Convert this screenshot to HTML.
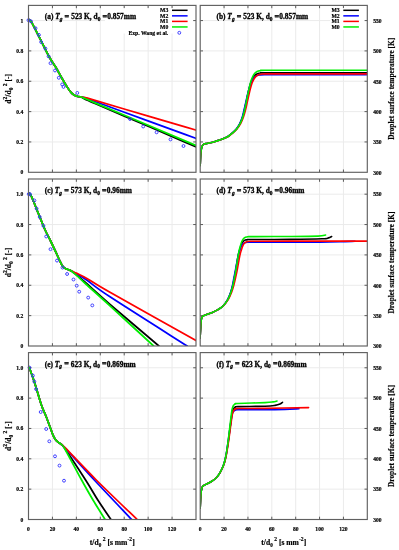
<!DOCTYPE html>
<html><head><meta charset="utf-8"><style>
html,body{margin:0;padding:0;background:#fff;width:399px;height:550px;overflow:hidden}
svg{display:block}
text{font-family:'Liberation Serif', 'Times New Roman', serif;font-weight:bold;fill:#000;stroke:#000;stroke-width:0.18px}
.tk{font-size:5.6px}
.ti{font-size:7.38px;stroke-width:0.3px}
.lg{font-size:5.7px}
.at{font-size:7.6px}
.at2{font-size:7.35px}
</style></head><body>
<svg width="399" height="550" viewBox="0 0 399 550">
<rect width="399" height="550" fill="#fff"/>
<line x1="52.43" y1="5.40" x2="52.43" y2="172.30" stroke="#ebebeb" stroke-width="1"/>
<line x1="76.36" y1="5.40" x2="76.36" y2="172.30" stroke="#ebebeb" stroke-width="1"/>
<line x1="100.29" y1="5.40" x2="100.29" y2="172.30" stroke="#ebebeb" stroke-width="1"/>
<line x1="124.21" y1="5.40" x2="124.21" y2="172.30" stroke="#ebebeb" stroke-width="1"/>
<line x1="148.14" y1="5.40" x2="148.14" y2="172.30" stroke="#ebebeb" stroke-width="1"/>
<line x1="172.07" y1="5.40" x2="172.07" y2="172.30" stroke="#ebebeb" stroke-width="1"/>
<line x1="28.50" y1="141.95" x2="196.00" y2="141.95" stroke="#ebebeb" stroke-width="1"/>
<line x1="28.50" y1="111.61" x2="196.00" y2="111.61" stroke="#ebebeb" stroke-width="1"/>
<line x1="28.50" y1="81.26" x2="196.00" y2="81.26" stroke="#ebebeb" stroke-width="1"/>
<line x1="28.50" y1="50.92" x2="196.00" y2="50.92" stroke="#ebebeb" stroke-width="1"/>
<line x1="28.50" y1="20.57" x2="196.00" y2="20.57" stroke="#ebebeb" stroke-width="1"/>
<line x1="52.43" y1="172.30" x2="52.43" y2="169.50" stroke="#404040" stroke-width="0.85"/>
<line x1="52.43" y1="5.40" x2="52.43" y2="8.20" stroke="#404040" stroke-width="0.85"/>
<line x1="76.36" y1="172.30" x2="76.36" y2="169.50" stroke="#404040" stroke-width="0.85"/>
<line x1="76.36" y1="5.40" x2="76.36" y2="8.20" stroke="#404040" stroke-width="0.85"/>
<line x1="100.29" y1="172.30" x2="100.29" y2="169.50" stroke="#404040" stroke-width="0.85"/>
<line x1="100.29" y1="5.40" x2="100.29" y2="8.20" stroke="#404040" stroke-width="0.85"/>
<line x1="124.21" y1="172.30" x2="124.21" y2="169.50" stroke="#404040" stroke-width="0.85"/>
<line x1="124.21" y1="5.40" x2="124.21" y2="8.20" stroke="#404040" stroke-width="0.85"/>
<line x1="148.14" y1="172.30" x2="148.14" y2="169.50" stroke="#404040" stroke-width="0.85"/>
<line x1="148.14" y1="5.40" x2="148.14" y2="8.20" stroke="#404040" stroke-width="0.85"/>
<line x1="172.07" y1="172.30" x2="172.07" y2="169.50" stroke="#404040" stroke-width="0.85"/>
<line x1="172.07" y1="5.40" x2="172.07" y2="8.20" stroke="#404040" stroke-width="0.85"/>
<line x1="28.50" y1="141.95" x2="31.30" y2="141.95" stroke="#404040" stroke-width="0.85"/>
<line x1="196.00" y1="141.95" x2="193.20" y2="141.95" stroke="#404040" stroke-width="0.85"/>
<line x1="28.50" y1="111.61" x2="31.30" y2="111.61" stroke="#404040" stroke-width="0.85"/>
<line x1="196.00" y1="111.61" x2="193.20" y2="111.61" stroke="#404040" stroke-width="0.85"/>
<line x1="28.50" y1="81.26" x2="31.30" y2="81.26" stroke="#404040" stroke-width="0.85"/>
<line x1="196.00" y1="81.26" x2="193.20" y2="81.26" stroke="#404040" stroke-width="0.85"/>
<line x1="28.50" y1="50.92" x2="31.30" y2="50.92" stroke="#404040" stroke-width="0.85"/>
<line x1="196.00" y1="50.92" x2="193.20" y2="50.92" stroke="#404040" stroke-width="0.85"/>
<line x1="28.50" y1="20.57" x2="31.30" y2="20.57" stroke="#404040" stroke-width="0.85"/>
<line x1="196.00" y1="20.57" x2="193.20" y2="20.57" stroke="#404040" stroke-width="0.85"/>
<text x="23.20" y="174.30" text-anchor="end" class="tk">0</text>
<text x="23.20" y="143.95" text-anchor="end" class="tk">0.2</text>
<text x="23.20" y="113.61" text-anchor="end" class="tk">0.4</text>
<text x="23.20" y="83.26" text-anchor="end" class="tk">0.6</text>
<text x="23.20" y="52.92" text-anchor="end" class="tk">0.8</text>
<text x="23.20" y="22.57" text-anchor="end" class="tk">1</text>
<line x1="224.07" y1="5.40" x2="224.07" y2="172.30" stroke="#ebebeb" stroke-width="1"/>
<line x1="247.94" y1="5.40" x2="247.94" y2="172.30" stroke="#ebebeb" stroke-width="1"/>
<line x1="271.81" y1="5.40" x2="271.81" y2="172.30" stroke="#ebebeb" stroke-width="1"/>
<line x1="295.69" y1="5.40" x2="295.69" y2="172.30" stroke="#ebebeb" stroke-width="1"/>
<line x1="319.56" y1="5.40" x2="319.56" y2="172.30" stroke="#ebebeb" stroke-width="1"/>
<line x1="343.43" y1="5.40" x2="343.43" y2="172.30" stroke="#ebebeb" stroke-width="1"/>
<line x1="200.20" y1="141.95" x2="367.30" y2="141.95" stroke="#ebebeb" stroke-width="1"/>
<line x1="200.20" y1="111.61" x2="367.30" y2="111.61" stroke="#ebebeb" stroke-width="1"/>
<line x1="200.20" y1="81.26" x2="367.30" y2="81.26" stroke="#ebebeb" stroke-width="1"/>
<line x1="200.20" y1="50.92" x2="367.30" y2="50.92" stroke="#ebebeb" stroke-width="1"/>
<line x1="200.20" y1="20.57" x2="367.30" y2="20.57" stroke="#ebebeb" stroke-width="1"/>
<line x1="224.07" y1="172.30" x2="224.07" y2="169.50" stroke="#404040" stroke-width="0.85"/>
<line x1="224.07" y1="5.40" x2="224.07" y2="8.20" stroke="#404040" stroke-width="0.85"/>
<line x1="247.94" y1="172.30" x2="247.94" y2="169.50" stroke="#404040" stroke-width="0.85"/>
<line x1="247.94" y1="5.40" x2="247.94" y2="8.20" stroke="#404040" stroke-width="0.85"/>
<line x1="271.81" y1="172.30" x2="271.81" y2="169.50" stroke="#404040" stroke-width="0.85"/>
<line x1="271.81" y1="5.40" x2="271.81" y2="8.20" stroke="#404040" stroke-width="0.85"/>
<line x1="295.69" y1="172.30" x2="295.69" y2="169.50" stroke="#404040" stroke-width="0.85"/>
<line x1="295.69" y1="5.40" x2="295.69" y2="8.20" stroke="#404040" stroke-width="0.85"/>
<line x1="319.56" y1="172.30" x2="319.56" y2="169.50" stroke="#404040" stroke-width="0.85"/>
<line x1="319.56" y1="5.40" x2="319.56" y2="8.20" stroke="#404040" stroke-width="0.85"/>
<line x1="343.43" y1="172.30" x2="343.43" y2="169.50" stroke="#404040" stroke-width="0.85"/>
<line x1="343.43" y1="5.40" x2="343.43" y2="8.20" stroke="#404040" stroke-width="0.85"/>
<line x1="200.20" y1="141.95" x2="203.00" y2="141.95" stroke="#404040" stroke-width="0.85"/>
<line x1="367.30" y1="141.95" x2="364.50" y2="141.95" stroke="#404040" stroke-width="0.85"/>
<line x1="200.20" y1="111.61" x2="203.00" y2="111.61" stroke="#404040" stroke-width="0.85"/>
<line x1="367.30" y1="111.61" x2="364.50" y2="111.61" stroke="#404040" stroke-width="0.85"/>
<line x1="200.20" y1="81.26" x2="203.00" y2="81.26" stroke="#404040" stroke-width="0.85"/>
<line x1="367.30" y1="81.26" x2="364.50" y2="81.26" stroke="#404040" stroke-width="0.85"/>
<line x1="200.20" y1="50.92" x2="203.00" y2="50.92" stroke="#404040" stroke-width="0.85"/>
<line x1="367.30" y1="50.92" x2="364.50" y2="50.92" stroke="#404040" stroke-width="0.85"/>
<line x1="200.20" y1="20.57" x2="203.00" y2="20.57" stroke="#404040" stroke-width="0.85"/>
<line x1="367.30" y1="20.57" x2="364.50" y2="20.57" stroke="#404040" stroke-width="0.85"/>
<text x="373.20" y="174.60" text-anchor="start" class="tk">300</text>
<text x="373.20" y="144.25" text-anchor="start" class="tk">350</text>
<text x="373.20" y="113.91" text-anchor="start" class="tk">400</text>
<text x="373.20" y="83.56" text-anchor="start" class="tk">450</text>
<text x="373.20" y="53.22" text-anchor="start" class="tk">500</text>
<text x="373.20" y="22.87" text-anchor="start" class="tk">550</text>
<line x1="52.43" y1="179.00" x2="52.43" y2="346.00" stroke="#ebebeb" stroke-width="1"/>
<line x1="76.36" y1="179.00" x2="76.36" y2="346.00" stroke="#ebebeb" stroke-width="1"/>
<line x1="100.29" y1="179.00" x2="100.29" y2="346.00" stroke="#ebebeb" stroke-width="1"/>
<line x1="124.21" y1="179.00" x2="124.21" y2="346.00" stroke="#ebebeb" stroke-width="1"/>
<line x1="148.14" y1="179.00" x2="148.14" y2="346.00" stroke="#ebebeb" stroke-width="1"/>
<line x1="172.07" y1="179.00" x2="172.07" y2="346.00" stroke="#ebebeb" stroke-width="1"/>
<line x1="28.50" y1="315.64" x2="196.00" y2="315.64" stroke="#ebebeb" stroke-width="1"/>
<line x1="28.50" y1="285.27" x2="196.00" y2="285.27" stroke="#ebebeb" stroke-width="1"/>
<line x1="28.50" y1="254.91" x2="196.00" y2="254.91" stroke="#ebebeb" stroke-width="1"/>
<line x1="28.50" y1="224.55" x2="196.00" y2="224.55" stroke="#ebebeb" stroke-width="1"/>
<line x1="28.50" y1="194.18" x2="196.00" y2="194.18" stroke="#ebebeb" stroke-width="1"/>
<line x1="52.43" y1="346.00" x2="52.43" y2="343.20" stroke="#404040" stroke-width="0.85"/>
<line x1="52.43" y1="179.00" x2="52.43" y2="181.80" stroke="#404040" stroke-width="0.85"/>
<line x1="76.36" y1="346.00" x2="76.36" y2="343.20" stroke="#404040" stroke-width="0.85"/>
<line x1="76.36" y1="179.00" x2="76.36" y2="181.80" stroke="#404040" stroke-width="0.85"/>
<line x1="100.29" y1="346.00" x2="100.29" y2="343.20" stroke="#404040" stroke-width="0.85"/>
<line x1="100.29" y1="179.00" x2="100.29" y2="181.80" stroke="#404040" stroke-width="0.85"/>
<line x1="124.21" y1="346.00" x2="124.21" y2="343.20" stroke="#404040" stroke-width="0.85"/>
<line x1="124.21" y1="179.00" x2="124.21" y2="181.80" stroke="#404040" stroke-width="0.85"/>
<line x1="148.14" y1="346.00" x2="148.14" y2="343.20" stroke="#404040" stroke-width="0.85"/>
<line x1="148.14" y1="179.00" x2="148.14" y2="181.80" stroke="#404040" stroke-width="0.85"/>
<line x1="172.07" y1="346.00" x2="172.07" y2="343.20" stroke="#404040" stroke-width="0.85"/>
<line x1="172.07" y1="179.00" x2="172.07" y2="181.80" stroke="#404040" stroke-width="0.85"/>
<line x1="28.50" y1="315.64" x2="31.30" y2="315.64" stroke="#404040" stroke-width="0.85"/>
<line x1="196.00" y1="315.64" x2="193.20" y2="315.64" stroke="#404040" stroke-width="0.85"/>
<line x1="28.50" y1="285.27" x2="31.30" y2="285.27" stroke="#404040" stroke-width="0.85"/>
<line x1="196.00" y1="285.27" x2="193.20" y2="285.27" stroke="#404040" stroke-width="0.85"/>
<line x1="28.50" y1="254.91" x2="31.30" y2="254.91" stroke="#404040" stroke-width="0.85"/>
<line x1="196.00" y1="254.91" x2="193.20" y2="254.91" stroke="#404040" stroke-width="0.85"/>
<line x1="28.50" y1="224.55" x2="31.30" y2="224.55" stroke="#404040" stroke-width="0.85"/>
<line x1="196.00" y1="224.55" x2="193.20" y2="224.55" stroke="#404040" stroke-width="0.85"/>
<line x1="28.50" y1="194.18" x2="31.30" y2="194.18" stroke="#404040" stroke-width="0.85"/>
<line x1="196.00" y1="194.18" x2="193.20" y2="194.18" stroke="#404040" stroke-width="0.85"/>
<text x="23.20" y="348.00" text-anchor="end" class="tk">0</text>
<text x="23.20" y="317.64" text-anchor="end" class="tk">0.2</text>
<text x="23.20" y="287.27" text-anchor="end" class="tk">0.4</text>
<text x="23.20" y="256.91" text-anchor="end" class="tk">0.6</text>
<text x="23.20" y="226.55" text-anchor="end" class="tk">0.8</text>
<text x="23.20" y="196.18" text-anchor="end" class="tk">1.0</text>
<line x1="224.07" y1="179.00" x2="224.07" y2="346.00" stroke="#ebebeb" stroke-width="1"/>
<line x1="247.94" y1="179.00" x2="247.94" y2="346.00" stroke="#ebebeb" stroke-width="1"/>
<line x1="271.81" y1="179.00" x2="271.81" y2="346.00" stroke="#ebebeb" stroke-width="1"/>
<line x1="295.69" y1="179.00" x2="295.69" y2="346.00" stroke="#ebebeb" stroke-width="1"/>
<line x1="319.56" y1="179.00" x2="319.56" y2="346.00" stroke="#ebebeb" stroke-width="1"/>
<line x1="343.43" y1="179.00" x2="343.43" y2="346.00" stroke="#ebebeb" stroke-width="1"/>
<line x1="200.20" y1="315.64" x2="367.30" y2="315.64" stroke="#ebebeb" stroke-width="1"/>
<line x1="200.20" y1="285.27" x2="367.30" y2="285.27" stroke="#ebebeb" stroke-width="1"/>
<line x1="200.20" y1="254.91" x2="367.30" y2="254.91" stroke="#ebebeb" stroke-width="1"/>
<line x1="200.20" y1="224.55" x2="367.30" y2="224.55" stroke="#ebebeb" stroke-width="1"/>
<line x1="200.20" y1="194.18" x2="367.30" y2="194.18" stroke="#ebebeb" stroke-width="1"/>
<line x1="224.07" y1="346.00" x2="224.07" y2="343.20" stroke="#404040" stroke-width="0.85"/>
<line x1="224.07" y1="179.00" x2="224.07" y2="181.80" stroke="#404040" stroke-width="0.85"/>
<line x1="247.94" y1="346.00" x2="247.94" y2="343.20" stroke="#404040" stroke-width="0.85"/>
<line x1="247.94" y1="179.00" x2="247.94" y2="181.80" stroke="#404040" stroke-width="0.85"/>
<line x1="271.81" y1="346.00" x2="271.81" y2="343.20" stroke="#404040" stroke-width="0.85"/>
<line x1="271.81" y1="179.00" x2="271.81" y2="181.80" stroke="#404040" stroke-width="0.85"/>
<line x1="295.69" y1="346.00" x2="295.69" y2="343.20" stroke="#404040" stroke-width="0.85"/>
<line x1="295.69" y1="179.00" x2="295.69" y2="181.80" stroke="#404040" stroke-width="0.85"/>
<line x1="319.56" y1="346.00" x2="319.56" y2="343.20" stroke="#404040" stroke-width="0.85"/>
<line x1="319.56" y1="179.00" x2="319.56" y2="181.80" stroke="#404040" stroke-width="0.85"/>
<line x1="343.43" y1="346.00" x2="343.43" y2="343.20" stroke="#404040" stroke-width="0.85"/>
<line x1="343.43" y1="179.00" x2="343.43" y2="181.80" stroke="#404040" stroke-width="0.85"/>
<line x1="200.20" y1="315.64" x2="203.00" y2="315.64" stroke="#404040" stroke-width="0.85"/>
<line x1="367.30" y1="315.64" x2="364.50" y2="315.64" stroke="#404040" stroke-width="0.85"/>
<line x1="200.20" y1="285.27" x2="203.00" y2="285.27" stroke="#404040" stroke-width="0.85"/>
<line x1="367.30" y1="285.27" x2="364.50" y2="285.27" stroke="#404040" stroke-width="0.85"/>
<line x1="200.20" y1="254.91" x2="203.00" y2="254.91" stroke="#404040" stroke-width="0.85"/>
<line x1="367.30" y1="254.91" x2="364.50" y2="254.91" stroke="#404040" stroke-width="0.85"/>
<line x1="200.20" y1="224.55" x2="203.00" y2="224.55" stroke="#404040" stroke-width="0.85"/>
<line x1="367.30" y1="224.55" x2="364.50" y2="224.55" stroke="#404040" stroke-width="0.85"/>
<line x1="200.20" y1="194.18" x2="203.00" y2="194.18" stroke="#404040" stroke-width="0.85"/>
<line x1="367.30" y1="194.18" x2="364.50" y2="194.18" stroke="#404040" stroke-width="0.85"/>
<text x="373.20" y="348.30" text-anchor="start" class="tk">300</text>
<text x="373.20" y="317.94" text-anchor="start" class="tk">350</text>
<text x="373.20" y="287.57" text-anchor="start" class="tk">400</text>
<text x="373.20" y="257.21" text-anchor="start" class="tk">450</text>
<text x="373.20" y="226.85" text-anchor="start" class="tk">500</text>
<text x="373.20" y="196.48" text-anchor="start" class="tk">550</text>
<line x1="52.43" y1="352.60" x2="52.43" y2="519.50" stroke="#ebebeb" stroke-width="1"/>
<line x1="76.36" y1="352.60" x2="76.36" y2="519.50" stroke="#ebebeb" stroke-width="1"/>
<line x1="100.29" y1="352.60" x2="100.29" y2="519.50" stroke="#ebebeb" stroke-width="1"/>
<line x1="124.21" y1="352.60" x2="124.21" y2="519.50" stroke="#ebebeb" stroke-width="1"/>
<line x1="148.14" y1="352.60" x2="148.14" y2="519.50" stroke="#ebebeb" stroke-width="1"/>
<line x1="172.07" y1="352.60" x2="172.07" y2="519.50" stroke="#ebebeb" stroke-width="1"/>
<line x1="28.50" y1="489.15" x2="196.00" y2="489.15" stroke="#ebebeb" stroke-width="1"/>
<line x1="28.50" y1="458.81" x2="196.00" y2="458.81" stroke="#ebebeb" stroke-width="1"/>
<line x1="28.50" y1="428.46" x2="196.00" y2="428.46" stroke="#ebebeb" stroke-width="1"/>
<line x1="28.50" y1="398.12" x2="196.00" y2="398.12" stroke="#ebebeb" stroke-width="1"/>
<line x1="28.50" y1="367.77" x2="196.00" y2="367.77" stroke="#ebebeb" stroke-width="1"/>
<line x1="52.43" y1="519.50" x2="52.43" y2="516.70" stroke="#404040" stroke-width="0.85"/>
<line x1="52.43" y1="352.60" x2="52.43" y2="355.40" stroke="#404040" stroke-width="0.85"/>
<line x1="76.36" y1="519.50" x2="76.36" y2="516.70" stroke="#404040" stroke-width="0.85"/>
<line x1="76.36" y1="352.60" x2="76.36" y2="355.40" stroke="#404040" stroke-width="0.85"/>
<line x1="100.29" y1="519.50" x2="100.29" y2="516.70" stroke="#404040" stroke-width="0.85"/>
<line x1="100.29" y1="352.60" x2="100.29" y2="355.40" stroke="#404040" stroke-width="0.85"/>
<line x1="124.21" y1="519.50" x2="124.21" y2="516.70" stroke="#404040" stroke-width="0.85"/>
<line x1="124.21" y1="352.60" x2="124.21" y2="355.40" stroke="#404040" stroke-width="0.85"/>
<line x1="148.14" y1="519.50" x2="148.14" y2="516.70" stroke="#404040" stroke-width="0.85"/>
<line x1="148.14" y1="352.60" x2="148.14" y2="355.40" stroke="#404040" stroke-width="0.85"/>
<line x1="172.07" y1="519.50" x2="172.07" y2="516.70" stroke="#404040" stroke-width="0.85"/>
<line x1="172.07" y1="352.60" x2="172.07" y2="355.40" stroke="#404040" stroke-width="0.85"/>
<line x1="28.50" y1="489.15" x2="31.30" y2="489.15" stroke="#404040" stroke-width="0.85"/>
<line x1="196.00" y1="489.15" x2="193.20" y2="489.15" stroke="#404040" stroke-width="0.85"/>
<line x1="28.50" y1="458.81" x2="31.30" y2="458.81" stroke="#404040" stroke-width="0.85"/>
<line x1="196.00" y1="458.81" x2="193.20" y2="458.81" stroke="#404040" stroke-width="0.85"/>
<line x1="28.50" y1="428.46" x2="31.30" y2="428.46" stroke="#404040" stroke-width="0.85"/>
<line x1="196.00" y1="428.46" x2="193.20" y2="428.46" stroke="#404040" stroke-width="0.85"/>
<line x1="28.50" y1="398.12" x2="31.30" y2="398.12" stroke="#404040" stroke-width="0.85"/>
<line x1="196.00" y1="398.12" x2="193.20" y2="398.12" stroke="#404040" stroke-width="0.85"/>
<line x1="28.50" y1="367.77" x2="31.30" y2="367.77" stroke="#404040" stroke-width="0.85"/>
<line x1="196.00" y1="367.77" x2="193.20" y2="367.77" stroke="#404040" stroke-width="0.85"/>
<text x="23.20" y="521.50" text-anchor="end" class="tk">0</text>
<text x="23.20" y="491.15" text-anchor="end" class="tk">0.2</text>
<text x="23.20" y="460.81" text-anchor="end" class="tk">0.4</text>
<text x="23.20" y="430.46" text-anchor="end" class="tk">0.6</text>
<text x="23.20" y="400.12" text-anchor="end" class="tk">0.8</text>
<text x="23.20" y="369.77" text-anchor="end" class="tk">1.0</text>
<line x1="224.07" y1="352.60" x2="224.07" y2="519.50" stroke="#ebebeb" stroke-width="1"/>
<line x1="247.94" y1="352.60" x2="247.94" y2="519.50" stroke="#ebebeb" stroke-width="1"/>
<line x1="271.81" y1="352.60" x2="271.81" y2="519.50" stroke="#ebebeb" stroke-width="1"/>
<line x1="295.69" y1="352.60" x2="295.69" y2="519.50" stroke="#ebebeb" stroke-width="1"/>
<line x1="319.56" y1="352.60" x2="319.56" y2="519.50" stroke="#ebebeb" stroke-width="1"/>
<line x1="343.43" y1="352.60" x2="343.43" y2="519.50" stroke="#ebebeb" stroke-width="1"/>
<line x1="200.20" y1="489.15" x2="367.30" y2="489.15" stroke="#ebebeb" stroke-width="1"/>
<line x1="200.20" y1="458.81" x2="367.30" y2="458.81" stroke="#ebebeb" stroke-width="1"/>
<line x1="200.20" y1="428.46" x2="367.30" y2="428.46" stroke="#ebebeb" stroke-width="1"/>
<line x1="200.20" y1="398.12" x2="367.30" y2="398.12" stroke="#ebebeb" stroke-width="1"/>
<line x1="200.20" y1="367.77" x2="367.30" y2="367.77" stroke="#ebebeb" stroke-width="1"/>
<line x1="224.07" y1="519.50" x2="224.07" y2="516.70" stroke="#404040" stroke-width="0.85"/>
<line x1="224.07" y1="352.60" x2="224.07" y2="355.40" stroke="#404040" stroke-width="0.85"/>
<line x1="247.94" y1="519.50" x2="247.94" y2="516.70" stroke="#404040" stroke-width="0.85"/>
<line x1="247.94" y1="352.60" x2="247.94" y2="355.40" stroke="#404040" stroke-width="0.85"/>
<line x1="271.81" y1="519.50" x2="271.81" y2="516.70" stroke="#404040" stroke-width="0.85"/>
<line x1="271.81" y1="352.60" x2="271.81" y2="355.40" stroke="#404040" stroke-width="0.85"/>
<line x1="295.69" y1="519.50" x2="295.69" y2="516.70" stroke="#404040" stroke-width="0.85"/>
<line x1="295.69" y1="352.60" x2="295.69" y2="355.40" stroke="#404040" stroke-width="0.85"/>
<line x1="319.56" y1="519.50" x2="319.56" y2="516.70" stroke="#404040" stroke-width="0.85"/>
<line x1="319.56" y1="352.60" x2="319.56" y2="355.40" stroke="#404040" stroke-width="0.85"/>
<line x1="343.43" y1="519.50" x2="343.43" y2="516.70" stroke="#404040" stroke-width="0.85"/>
<line x1="343.43" y1="352.60" x2="343.43" y2="355.40" stroke="#404040" stroke-width="0.85"/>
<line x1="200.20" y1="489.15" x2="203.00" y2="489.15" stroke="#404040" stroke-width="0.85"/>
<line x1="367.30" y1="489.15" x2="364.50" y2="489.15" stroke="#404040" stroke-width="0.85"/>
<line x1="200.20" y1="458.81" x2="203.00" y2="458.81" stroke="#404040" stroke-width="0.85"/>
<line x1="367.30" y1="458.81" x2="364.50" y2="458.81" stroke="#404040" stroke-width="0.85"/>
<line x1="200.20" y1="428.46" x2="203.00" y2="428.46" stroke="#404040" stroke-width="0.85"/>
<line x1="367.30" y1="428.46" x2="364.50" y2="428.46" stroke="#404040" stroke-width="0.85"/>
<line x1="200.20" y1="398.12" x2="203.00" y2="398.12" stroke="#404040" stroke-width="0.85"/>
<line x1="367.30" y1="398.12" x2="364.50" y2="398.12" stroke="#404040" stroke-width="0.85"/>
<line x1="200.20" y1="367.77" x2="203.00" y2="367.77" stroke="#404040" stroke-width="0.85"/>
<line x1="367.30" y1="367.77" x2="364.50" y2="367.77" stroke="#404040" stroke-width="0.85"/>
<text x="373.20" y="521.80" text-anchor="start" class="tk">300</text>
<text x="373.20" y="491.45" text-anchor="start" class="tk">350</text>
<text x="373.20" y="461.11" text-anchor="start" class="tk">400</text>
<text x="373.20" y="430.76" text-anchor="start" class="tk">450</text>
<text x="373.20" y="400.42" text-anchor="start" class="tk">500</text>
<text x="373.20" y="370.07" text-anchor="start" class="tk">550</text>
<rect x="105" y="8.4" width="88.00" height="25.10" fill="#fff"/>
<rect x="330" y="8.4" width="34.30" height="21.40" fill="#fff"/>
<defs>
<clipPath id="c0"><rect x="28.50" y="5.40" width="167.50" height="166.90"/></clipPath>
<clipPath id="c1"><rect x="200.20" y="5.40" width="167.10" height="166.90"/></clipPath>
<clipPath id="c2"><rect x="28.50" y="179.00" width="167.50" height="167.00"/></clipPath>
<clipPath id="c3"><rect x="200.20" y="179.00" width="167.10" height="167.00"/></clipPath>
<clipPath id="c4"><rect x="28.50" y="352.60" width="167.50" height="166.90"/></clipPath>
<clipPath id="c5"><rect x="200.20" y="352.60" width="167.10" height="166.90"/></clipPath>
</defs>
<g clip-path="url(#c0)">
<path d="M28.40,20.30 C28.83,20.48 29.07,18.35 31.00,21.40 C32.93,24.45 36.95,32.67 40.00,38.60 C43.05,44.53 46.67,52.22 49.30,57.00 C51.93,61.78 53.72,63.80 55.80,67.30 C57.88,70.80 59.95,74.78 61.80,78.00 C63.65,81.22 65.37,84.20 66.90,86.60 C68.43,89.00 69.73,90.95 71.00,92.40 C72.27,93.85 73.37,94.62 74.50,95.30 C75.63,95.98 76.72,96.22 77.80,96.50 C78.88,96.78 79.80,96.55 81.00,97.00 C82.20,97.45 82.67,98.12 85.00,99.20 C87.33,100.28 84.17,98.84 95.00,103.49 C105.83,108.13 135.00,120.64 150.00,127.07 C165.00,133.51 177.33,138.80 185.00,142.08 C192.67,145.37 194.17,146.01 196.00,146.80" fill="none" stroke="#000000" stroke-width="1.75" stroke-linejoin="round" stroke-linecap="round"/>
<path d="M28.40,20.30 C28.83,20.48 29.07,18.35 31.00,21.40 C32.93,24.45 36.95,32.67 40.00,38.60 C43.05,44.53 46.67,52.22 49.30,57.00 C51.93,61.78 53.72,63.80 55.80,67.30 C57.88,70.80 59.95,74.78 61.80,78.00 C63.65,81.22 65.37,84.20 66.90,86.60 C68.43,89.00 69.73,90.95 71.00,92.40 C72.27,93.85 73.37,94.62 74.50,95.30 C75.63,95.98 76.72,96.22 77.80,96.50 C78.88,96.78 79.80,96.77 81.00,97.00 C82.20,97.23 82.67,97.14 85.00,97.90 C87.33,98.66 84.17,97.60 95.00,101.55 C105.83,105.50 135.00,116.14 150.00,121.62 C165.00,127.09 177.33,131.59 185.00,134.39 C192.67,137.18 194.17,137.73 196.00,138.40" fill="none" stroke="#0000ff" stroke-width="1.75" stroke-linejoin="round" stroke-linecap="round"/>
<path d="M28.40,20.30 C28.83,20.48 29.07,18.35 31.00,21.40 C32.93,24.45 36.95,32.67 40.00,38.60 C43.05,44.53 46.67,52.22 49.30,57.00 C51.93,61.78 53.72,63.80 55.80,67.30 C57.88,70.80 59.95,74.78 61.80,78.00 C63.65,81.22 65.37,84.20 66.90,86.60 C68.43,89.00 69.73,90.95 71.00,92.40 C72.27,93.85 73.37,94.62 74.50,95.30 C75.63,95.98 76.72,96.22 77.80,96.50 C78.88,96.78 79.80,96.83 81.00,97.00 C82.20,97.17 82.67,96.93 85.00,97.50 C87.33,98.07 84.17,97.26 95.00,100.44 C105.83,103.62 135.00,112.18 150.00,116.59 C165.00,121.00 177.33,124.62 185.00,126.87 C192.67,129.12 194.17,129.56 196.00,130.10" fill="none" stroke="#ff0000" stroke-width="1.75" stroke-linejoin="round" stroke-linecap="round"/>
<path d="M28.40,20.30 C28.83,20.48 29.07,18.35 31.00,21.40 C32.93,24.45 36.95,32.67 40.00,38.60 C43.05,44.53 46.67,52.22 49.30,57.00 C51.93,61.78 53.72,63.80 55.80,67.30 C57.88,70.80 59.95,74.78 61.80,78.00 C63.65,81.22 65.37,84.20 66.90,86.60 C68.43,89.00 69.73,90.95 71.00,92.40 C72.27,93.85 73.37,94.62 74.50,95.30 C75.63,95.98 76.72,96.22 77.80,96.50 C78.88,96.78 79.80,96.65 81.00,97.00 C82.20,97.35 82.67,97.63 85.00,98.60 C87.33,99.57 84.17,98.25 95.00,102.83 C105.83,107.40 135.00,119.73 150.00,126.06 C165.00,132.40 177.33,137.61 185.00,140.85 C192.67,144.09 194.17,144.73 196.00,145.50" fill="none" stroke="#00ee00" stroke-width="1.75" stroke-linejoin="round" stroke-linecap="round"/>
</g>
<g clip-path="url(#c2)">
<path d="M28.60,194.10 C28.95,194.23 29.18,191.95 30.70,194.90 C32.22,197.85 35.33,206.03 37.70,211.80 C40.07,217.57 42.75,224.63 44.90,229.50 C47.05,234.37 48.63,236.92 50.60,241.00 C52.57,245.08 55.10,250.55 56.70,254.00 C58.30,257.45 59.25,259.73 60.20,261.70 C61.15,263.67 61.73,264.80 62.40,265.80 C63.07,266.80 63.52,267.18 64.20,267.70 C64.88,268.22 65.70,268.53 66.50,268.90 C67.30,269.27 68.25,269.58 69.00,269.90 C69.75,270.22 70.25,270.35 71.00,270.80 C71.75,271.25 72.50,271.85 73.50,272.60 C74.50,273.35 74.92,273.57 77.00,275.30 C79.08,277.03 80.50,278.17 86.00,283.00 C91.50,287.83 97.85,293.80 110.00,304.30 C122.15,314.80 150.75,339.05 158.90,346.00" fill="none" stroke="#000000" stroke-width="1.75" stroke-linejoin="round" stroke-linecap="round"/>
<path d="M28.60,194.10 C28.95,194.23 29.18,191.95 30.70,194.90 C32.22,197.85 35.33,206.03 37.70,211.80 C40.07,217.57 42.75,224.63 44.90,229.50 C47.05,234.37 48.63,236.92 50.60,241.00 C52.57,245.08 55.10,250.55 56.70,254.00 C58.30,257.45 59.25,259.73 60.20,261.70 C61.15,263.67 61.73,264.80 62.40,265.80 C63.07,266.80 63.52,267.18 64.20,267.70 C64.88,268.22 65.70,268.53 66.50,268.90 C67.30,269.27 68.25,269.58 69.00,269.90 C69.75,270.22 70.25,270.42 71.00,270.80 C71.75,271.18 72.50,271.63 73.50,272.20 C74.50,272.77 74.75,272.85 77.00,274.20 C79.25,275.55 81.50,276.53 87.00,280.30 C92.50,284.07 93.30,285.85 110.00,296.80 C126.70,307.75 174.33,337.80 187.20,346.00" fill="none" stroke="#0000ff" stroke-width="1.75" stroke-linejoin="round" stroke-linecap="round"/>
<path d="M28.60,194.10 C28.95,194.23 29.18,191.95 30.70,194.90 C32.22,197.85 35.33,206.03 37.70,211.80 C40.07,217.57 42.75,224.63 44.90,229.50 C47.05,234.37 48.63,236.92 50.60,241.00 C52.57,245.08 55.10,250.55 56.70,254.00 C58.30,257.45 59.25,259.73 60.20,261.70 C61.15,263.67 61.73,264.80 62.40,265.80 C63.07,266.80 63.52,267.18 64.20,267.70 C64.88,268.22 65.70,268.53 66.50,268.90 C67.30,269.27 68.25,269.58 69.00,269.90 C69.75,270.22 70.25,270.47 71.00,270.80 C71.75,271.13 72.53,271.47 73.50,271.90 C74.47,272.33 74.50,272.27 76.80,273.40 C79.10,274.53 81.77,275.55 87.30,278.70 C92.83,281.85 91.88,281.98 110.00,292.30 C128.12,302.62 181.67,332.55 196.00,340.60" fill="none" stroke="#ff0000" stroke-width="1.75" stroke-linejoin="round" stroke-linecap="round"/>
<path d="M28.60,194.10 C28.95,194.23 29.18,191.95 30.70,194.90 C32.22,197.85 35.33,206.03 37.70,211.80 C40.07,217.57 42.75,224.63 44.90,229.50 C47.05,234.37 48.63,236.92 50.60,241.00 C52.57,245.08 55.10,250.55 56.70,254.00 C58.30,257.45 59.25,259.73 60.20,261.70 C61.15,263.67 61.73,264.80 62.40,265.80 C63.07,266.80 63.52,267.18 64.20,267.70 C64.88,268.22 65.70,268.53 66.50,268.90 C67.30,269.27 68.25,269.58 69.00,269.90 C69.75,270.22 70.25,270.32 71.00,270.80 C71.75,271.28 72.53,271.98 73.50,272.80 C74.47,273.62 74.75,273.83 76.80,275.70 C78.85,277.57 80.27,278.98 85.80,284.00 C91.33,289.02 98.70,295.47 110.00,305.80 C121.30,316.13 146.33,339.30 153.60,346.00" fill="none" stroke="#00ee00" stroke-width="1.75" stroke-linejoin="round" stroke-linecap="round"/>
</g>
<g clip-path="url(#c4)">
<path d="M29.30,367.60 C30.25,370.33 32.98,377.77 35.00,384.00 C37.02,390.23 39.58,399.67 41.40,405.00 C43.22,410.33 44.40,412.17 45.90,416.00 C47.40,419.83 49.23,424.87 50.40,428.00 C51.57,431.13 52.07,432.90 52.90,434.80 C53.73,436.70 54.50,438.13 55.40,439.40 C56.30,440.67 57.33,441.58 58.30,442.40 C59.27,443.22 60.08,443.25 61.20,444.30 C62.32,445.35 60.93,442.75 65.00,448.70 C69.07,454.65 80.13,471.45 85.60,480.00 C91.07,488.55 93.57,493.40 97.80,500.00 C102.03,506.60 108.80,516.33 111.00,519.60" fill="none" stroke="#000000" stroke-width="1.75" stroke-linejoin="round" stroke-linecap="round"/>
<path d="M29.30,367.60 C30.25,370.33 32.98,377.77 35.00,384.00 C37.02,390.23 39.58,399.67 41.40,405.00 C43.22,410.33 44.40,412.17 45.90,416.00 C47.40,419.83 49.23,424.87 50.40,428.00 C51.57,431.13 52.07,432.90 52.90,434.80 C53.73,436.70 54.50,438.13 55.40,439.40 C56.30,440.67 57.33,441.58 58.30,442.40 C59.27,443.22 60.08,443.38 61.20,444.30 C62.32,445.22 59.48,441.95 65.00,447.90 C70.52,453.85 83.17,468.05 94.30,480.00 C105.43,491.95 125.55,513.00 131.80,519.60" fill="none" stroke="#0000ff" stroke-width="1.75" stroke-linejoin="round" stroke-linecap="round"/>
<path d="M29.30,367.60 C30.25,370.33 32.98,377.77 35.00,384.00 C37.02,390.23 39.58,399.67 41.40,405.00 C43.22,410.33 44.40,412.17 45.90,416.00 C47.40,419.83 49.23,424.87 50.40,428.00 C51.57,431.13 52.07,432.90 52.90,434.80 C53.73,436.70 54.50,438.13 55.40,439.40 C56.30,440.67 57.33,441.58 58.30,442.40 C59.27,443.22 60.08,443.43 61.20,444.30 C62.32,445.17 59.15,441.65 65.00,447.60 C70.85,453.55 84.27,468.00 96.30,480.00 C108.33,492.00 130.38,513.00 137.20,519.60" fill="none" stroke="#ff0000" stroke-width="1.75" stroke-linejoin="round" stroke-linecap="round"/>
<path d="M29.30,367.60 C30.25,370.33 32.98,377.77 35.00,384.00 C37.02,390.23 39.58,399.67 41.40,405.00 C43.22,410.33 44.40,412.17 45.90,416.00 C47.40,419.83 49.23,424.87 50.40,428.00 C51.57,431.13 52.07,432.90 52.90,434.80 C53.73,436.70 54.50,438.13 55.40,439.40 C56.30,440.67 57.33,441.58 58.30,442.40 C59.27,443.22 60.08,443.17 61.20,444.30 C62.32,445.43 61.60,443.25 65.00,449.20 C68.40,455.15 76.93,471.53 81.60,480.00 C86.27,488.47 89.08,493.42 93.00,500.00 C96.92,506.58 103.08,516.25 105.10,519.50" fill="none" stroke="#00ee00" stroke-width="1.75" stroke-linejoin="round" stroke-linecap="round"/>
</g>
<g clip-path="url(#c1)">
<path d="M200.20,165.50 C200.30,163.48 200.53,156.48 200.80,153.40 C201.07,150.32 201.37,148.48 201.80,147.00 C202.23,145.52 202.72,145.07 203.40,144.50 C204.08,143.93 204.20,144.03 205.90,143.60 C207.60,143.17 211.04,142.57 213.59,141.90 C216.13,141.23 218.85,140.45 221.17,139.60 C223.50,138.75 225.73,137.87 227.56,136.80 C229.39,135.73 230.65,134.52 232.14,133.20 C233.63,131.88 235.21,130.50 236.51,128.90 C237.82,127.30 238.98,125.53 239.98,123.60 C240.99,121.67 241.78,119.68 242.55,117.30 C243.32,114.92 243.96,112.03 244.60,109.30 C245.24,106.57 245.77,103.83 246.40,100.91 C247.03,97.99 247.73,94.63 248.40,91.79 C249.07,88.95 249.75,85.97 250.40,83.88 C251.05,81.78 251.63,80.56 252.30,79.22 C252.97,77.89 253.63,76.76 254.40,75.87 C255.17,74.99 255.97,74.38 256.90,73.92 C257.83,73.45 258.68,73.27 260.00,73.08 C261.32,72.89 258.17,72.85 264.80,72.80 C271.43,72.75 282.75,72.80 299.80,72.80 C316.85,72.80 355.88,72.80 367.10,72.80" fill="none" stroke="#000000" stroke-width="1.6" stroke-linejoin="round" stroke-linecap="round"/>
<path d="M200.20,165.50 C200.30,163.48 200.53,156.48 200.80,153.40 C201.07,150.32 201.37,148.48 201.80,147.00 C202.23,145.52 202.72,145.07 203.40,144.50 C204.08,143.93 204.20,144.03 205.89,143.60 C207.59,143.17 211.02,142.57 213.56,141.90 C216.10,141.23 218.80,140.45 221.12,139.60 C223.44,138.75 225.66,137.87 227.47,136.80 C229.29,135.73 230.54,134.52 232.01,133.20 C233.49,131.88 235.05,130.50 236.34,128.90 C237.63,127.30 238.77,125.53 239.75,123.60 C240.73,121.67 241.50,119.68 242.24,117.30 C242.98,114.92 243.58,111.96 244.20,109.30 C244.83,106.64 245.37,104.12 246.00,101.36 C246.63,98.60 247.33,95.42 248.00,92.74 C248.67,90.06 249.35,87.24 250.00,85.27 C250.65,83.29 251.23,82.13 251.90,80.87 C252.57,79.61 253.23,78.54 254.00,77.70 C254.77,76.87 255.57,76.30 256.50,75.86 C257.43,75.42 258.28,75.24 259.60,75.06 C260.92,74.89 257.77,74.84 264.40,74.80 C271.03,74.76 282.35,74.80 299.40,74.80 C316.45,74.80 355.48,74.80 366.70,74.80" fill="none" stroke="#0000ff" stroke-width="1.6" stroke-linejoin="round" stroke-linecap="round"/>
<path d="M200.20,165.50 C200.30,163.48 200.53,156.48 200.80,153.40 C201.07,150.32 201.37,148.48 201.80,147.00 C202.23,145.52 202.71,145.07 203.40,144.50 C204.09,143.93 204.20,144.03 205.91,143.60 C207.62,143.17 211.09,142.57 213.66,141.90 C216.22,141.23 218.96,140.45 221.32,139.60 C223.67,138.75 225.93,137.87 227.79,136.80 C229.65,135.73 230.95,134.52 232.48,133.20 C234.01,131.88 235.63,130.50 236.99,128.90 C238.35,127.30 239.56,125.53 240.63,123.60 C241.69,121.67 242.54,119.68 243.39,117.30 C244.23,114.92 245.01,111.99 245.69,109.30 C246.38,106.61 246.87,103.99 247.50,101.16 C248.13,98.33 248.83,95.07 249.50,92.31 C250.17,89.56 250.85,86.67 251.50,84.64 C252.15,82.61 252.73,81.42 253.40,80.13 C254.07,78.83 254.73,77.74 255.50,76.88 C256.27,76.02 257.07,75.43 258.00,74.98 C258.93,74.53 259.78,74.35 261.10,74.17 C262.42,73.99 259.27,73.95 265.90,73.90 C272.53,73.85 283.85,73.90 300.90,73.90 C317.95,73.90 356.98,73.90 368.20,73.90" fill="none" stroke="#ff0000" stroke-width="1.6" stroke-linejoin="round" stroke-linecap="round"/>
<path d="M200.20,165.50 C200.30,163.48 200.53,156.48 200.80,153.40 C201.07,150.32 201.37,148.48 201.80,147.00 C202.23,145.52 202.72,145.07 203.40,144.50 C204.08,143.93 204.20,144.03 205.90,143.60 C207.60,143.17 211.05,142.57 213.60,141.90 C216.15,141.23 218.87,140.45 221.20,139.60 C223.53,138.75 225.77,137.87 227.60,136.80 C229.43,135.73 230.70,134.52 232.20,133.20 C233.70,131.88 235.28,130.50 236.60,128.90 C237.92,127.30 239.08,125.53 240.10,123.60 C241.12,121.67 241.92,119.68 242.70,117.30 C243.48,114.92 244.15,112.13 244.80,109.30 C245.45,106.47 245.97,103.46 246.60,100.35 C247.23,97.23 247.93,93.63 248.60,90.60 C249.27,87.56 249.95,84.38 250.60,82.14 C251.25,79.90 251.83,78.59 252.50,77.16 C253.17,75.74 253.83,74.53 254.60,73.58 C255.37,72.64 256.17,71.99 257.10,71.49 C258.03,71.00 258.88,70.80 260.20,70.60 C261.52,70.40 258.37,70.35 265.00,70.30 C271.63,70.25 282.95,70.30 300.00,70.30 C317.05,70.30 356.08,70.30 367.30,70.30" fill="none" stroke="#00ee00" stroke-width="1.6" stroke-linejoin="round" stroke-linecap="round"/>
</g>
<g clip-path="url(#c3)">
<path d="M200.10,338.00 C200.20,336.15 200.50,329.98 200.70,326.90 C200.90,323.82 200.98,321.25 201.30,319.50 C201.62,317.75 201.88,317.17 202.60,316.40 C203.32,315.63 204.07,315.52 205.60,314.90 C207.13,314.28 209.73,313.58 211.80,312.70 C213.87,311.82 216.13,310.72 218.00,309.60 C219.86,308.48 221.35,307.67 222.97,306.00 C224.60,304.33 226.42,301.92 227.74,299.60 C229.06,297.28 230.06,294.45 230.90,292.10 C231.73,289.75 232.20,287.82 232.76,285.50 C233.31,283.18 233.73,280.71 234.22,278.20 C234.71,275.69 235.22,273.10 235.70,270.42 C236.18,267.73 236.63,264.80 237.10,262.11 C237.57,259.42 238.02,256.51 238.50,254.26 C238.98,252.02 239.50,250.31 240.00,248.63 C240.50,246.95 240.97,245.40 241.50,244.20 C242.03,243.00 242.57,242.12 243.20,241.43 C243.83,240.74 244.53,240.35 245.30,240.05 C246.07,239.74 246.72,239.68 247.80,239.58 C248.88,239.49 244.80,239.52 251.80,239.49 C258.80,239.46 278.10,239.52 289.80,239.40 C301.50,239.28 315.55,239.05 322.00,238.80 C328.45,238.55 326.88,238.28 328.50,237.90 C330.12,237.52 331.17,236.73 331.70,236.50" fill="none" stroke="#000000" stroke-width="1.6" stroke-linejoin="round" stroke-linecap="round"/>
<path d="M200.10,338.00 C200.20,336.15 200.50,329.98 200.70,326.90 C200.90,323.82 200.98,321.25 201.30,319.50 C201.62,317.75 201.88,317.17 202.60,316.40 C203.32,315.63 204.07,315.52 205.60,314.90 C207.13,314.28 209.74,313.58 211.80,312.70 C213.86,311.82 216.13,310.72 217.99,309.60 C219.84,308.48 221.32,307.67 222.92,306.00 C224.53,304.33 226.32,301.92 227.61,299.60 C228.91,297.28 229.88,294.45 230.69,292.10 C231.50,289.75 231.95,287.82 232.47,285.50 C233.00,283.18 233.38,280.65 233.85,278.20 C234.32,275.75 234.82,273.31 235.30,270.79 C235.78,268.27 236.23,265.60 236.70,263.10 C237.17,260.61 237.62,257.92 238.10,255.85 C238.58,253.77 239.10,252.19 239.60,250.64 C240.10,249.09 240.57,247.65 241.10,246.54 C241.63,245.43 242.17,244.62 242.80,243.98 C243.43,243.34 244.13,242.98 244.90,242.70 C245.67,242.41 246.32,242.36 247.40,242.27 C248.48,242.19 244.40,242.21 251.40,242.19 C258.40,242.16 277.97,242.11 289.40,242.10 C300.83,242.09 311.57,242.15 320.00,242.10 C328.43,242.05 334.17,241.93 340.00,241.80 C345.83,241.67 352.50,241.38 355.00,241.30" fill="none" stroke="#0000ff" stroke-width="1.6" stroke-linejoin="round" stroke-linecap="round"/>
<path d="M200.10,338.00 C200.20,336.15 200.50,329.98 200.70,326.90 C200.90,323.82 200.98,321.25 201.30,319.50 C201.62,317.75 201.88,317.17 202.60,316.40 C203.32,315.63 204.07,315.52 205.60,314.90 C207.13,314.28 209.73,313.58 211.80,312.70 C213.87,311.82 216.14,310.72 218.03,309.60 C219.92,308.48 221.46,307.67 223.15,306.00 C224.84,304.33 226.76,301.92 228.17,299.60 C229.58,297.28 230.70,294.45 231.63,292.10 C232.56,289.75 233.11,287.82 233.75,285.50 C234.40,283.18 234.95,280.67 235.50,278.20 C236.06,275.73 236.60,273.23 237.10,270.65 C237.60,268.07 238.03,265.30 238.50,262.74 C238.97,260.17 239.42,257.40 239.90,255.26 C240.38,253.12 240.90,251.49 241.40,249.89 C241.90,248.30 242.37,246.82 242.90,245.67 C243.43,244.53 243.97,243.69 244.60,243.03 C245.23,242.38 245.93,242.01 246.70,241.72 C247.47,241.42 248.12,241.36 249.20,241.28 C250.28,241.19 246.20,241.22 253.20,241.19 C260.20,241.16 272.18,241.11 291.20,241.10 C310.22,241.09 354.62,241.10 367.30,241.10" fill="none" stroke="#ff0000" stroke-width="1.6" stroke-linejoin="round" stroke-linecap="round"/>
<path d="M200.10,338.00 C200.20,336.15 200.50,329.98 200.70,326.90 C200.90,323.82 200.98,321.25 201.30,319.50 C201.62,317.75 201.88,317.17 202.60,316.40 C203.32,315.63 204.07,315.52 205.60,314.90 C207.13,314.28 209.73,313.58 211.80,312.70 C213.87,311.82 216.13,310.72 218.00,309.60 C219.87,308.48 221.37,307.67 223.00,306.00 C224.63,304.33 226.47,301.92 227.80,299.60 C229.13,297.28 230.15,294.45 231.00,292.10 C231.85,289.75 232.33,287.82 232.90,285.50 C233.47,283.18 233.90,280.78 234.40,278.20 C234.90,275.62 235.42,272.87 235.90,270.01 C236.38,267.15 236.83,263.95 237.30,261.04 C237.77,258.13 238.22,254.99 238.70,252.56 C239.18,250.13 239.70,248.29 240.20,246.47 C240.70,244.66 241.17,242.98 241.70,241.69 C242.23,240.39 242.77,239.44 243.40,238.69 C244.03,237.95 244.73,237.53 245.50,237.20 C246.27,236.87 246.92,236.80 248.00,236.70 C249.08,236.60 245.00,236.63 252.00,236.60 C259.00,236.57 279.00,236.58 290.00,236.50 C301.00,236.42 312.07,236.35 318.00,236.10 C323.93,235.85 324.33,235.18 325.60,235.00" fill="none" stroke="#00ee00" stroke-width="1.6" stroke-linejoin="round" stroke-linecap="round"/>
</g>
<g clip-path="url(#c5)">
<path d="M200.20,508.00 C200.30,505.98 200.58,498.98 200.80,495.90 C201.02,492.82 201.18,491.10 201.50,489.50 C201.82,487.90 201.97,487.15 202.70,486.30 C203.43,485.45 204.52,485.15 205.90,484.40 C207.28,483.65 209.30,482.87 211.00,481.80 C212.70,480.73 214.62,479.48 216.10,478.00 C217.58,476.52 218.67,475.02 219.90,472.90 C221.13,470.78 222.50,468.03 223.50,465.30 C224.50,462.57 225.13,460.22 225.90,456.50 C226.67,452.78 227.50,447.05 228.10,443.00 C228.70,438.95 229.03,435.83 229.50,432.22 C229.97,428.61 230.45,424.67 230.90,421.36 C231.35,418.05 231.75,414.51 232.20,412.35 C232.65,410.20 233.03,409.34 233.60,408.46 C234.17,407.57 234.87,407.37 235.60,407.06 C236.33,406.75 233.10,406.74 238.00,406.60 C242.90,406.46 258.83,406.40 265.00,406.20 C271.17,406.00 272.50,405.75 275.00,405.40 C277.50,405.05 278.75,404.62 280.00,404.10 C281.25,403.58 282.08,402.60 282.50,402.30" fill="none" stroke="#000000" stroke-width="1.6" stroke-linejoin="round" stroke-linecap="round"/>
<path d="M200.20,508.00 C200.30,505.98 200.58,498.98 200.80,495.90 C201.02,492.82 201.18,491.10 201.50,489.50 C201.82,487.90 201.97,487.15 202.70,486.30 C203.43,485.45 204.52,485.15 205.90,484.40 C207.28,483.65 209.30,482.87 211.00,481.80 C212.70,480.73 214.62,479.48 216.10,478.00 C217.58,476.52 218.65,475.02 219.87,472.90 C221.09,470.78 222.44,468.03 223.43,465.30 C224.41,462.57 225.03,460.22 225.78,456.50 C226.52,452.78 227.31,446.89 227.90,443.00 C228.49,439.11 228.83,436.44 229.30,433.15 C229.77,429.86 230.25,426.27 230.70,423.25 C231.15,420.24 231.55,417.01 232.00,415.05 C232.45,413.09 232.83,412.30 233.40,411.49 C233.97,410.69 234.67,410.51 235.40,410.22 C236.13,409.94 232.87,409.87 237.80,409.80 C242.73,409.73 257.13,409.87 265.00,409.80 C272.87,409.73 279.33,409.57 285.00,409.40 C290.67,409.23 296.67,408.90 299.00,408.80" fill="none" stroke="#0000ff" stroke-width="1.6" stroke-linejoin="round" stroke-linecap="round"/>
<path d="M200.20,508.00 C200.30,505.98 200.58,498.98 200.80,495.90 C201.02,492.82 201.18,491.10 201.50,489.50 C201.82,487.90 201.97,487.15 202.70,486.30 C203.43,485.45 204.52,485.15 205.90,484.40 C207.28,483.65 209.30,482.87 211.00,481.80 C212.70,480.73 214.61,479.48 216.10,478.00 C217.59,476.52 218.69,475.02 219.94,472.90 C221.18,470.78 222.57,468.03 223.59,465.30 C224.61,462.57 225.26,460.22 226.05,456.50 C226.85,452.78 227.73,446.95 228.35,443.00 C228.96,439.05 229.28,436.19 229.75,432.77 C230.22,429.35 230.70,425.62 231.15,422.48 C231.60,419.35 232.00,415.99 232.45,413.95 C232.90,411.92 233.28,411.09 233.85,410.26 C234.42,409.42 235.12,409.23 235.85,408.94 C236.58,408.65 233.39,408.59 238.25,408.50 C243.11,408.41 253.28,408.55 265.00,408.40 C276.73,408.25 301.33,407.73 308.60,407.60" fill="none" stroke="#ff0000" stroke-width="1.6" stroke-linejoin="round" stroke-linecap="round"/>
<path d="M200.20,508.00 C200.30,505.98 200.58,498.98 200.80,495.90 C201.02,492.82 201.18,491.10 201.50,489.50 C201.82,487.90 201.97,487.15 202.70,486.30 C203.43,485.45 204.52,485.15 205.90,484.40 C207.28,483.65 209.30,482.87 211.00,481.80 C212.70,480.73 214.62,479.48 216.10,478.00 C217.58,476.52 218.65,475.02 219.87,472.90 C221.09,470.78 222.44,468.03 223.43,465.30 C224.41,462.57 225.03,460.22 225.78,456.50 C226.52,452.78 227.31,447.20 227.90,443.00 C228.49,438.80 228.83,435.23 229.30,431.31 C229.77,427.40 230.25,423.12 230.70,419.52 C231.15,415.93 231.55,412.08 232.00,409.75 C232.45,407.41 232.83,406.47 233.40,405.52 C233.97,404.56 234.67,404.34 235.40,404.00 C236.13,403.67 232.87,403.73 237.80,403.50 C242.73,403.27 259.13,402.87 265.00,402.60 C270.87,402.33 271.00,402.17 273.00,401.90 C275.00,401.63 276.33,401.15 277.00,401.00" fill="none" stroke="#00ee00" stroke-width="1.6" stroke-linejoin="round" stroke-linecap="round"/>
</g>
<circle cx="28.50" cy="20.20" r="1.45" fill="none" stroke="#3030ff" stroke-width="0.9"/>
<circle cx="31.00" cy="21.40" r="1.45" fill="none" stroke="#3030ff" stroke-width="0.9"/>
<circle cx="35.50" cy="28.20" r="1.45" fill="none" stroke="#3030ff" stroke-width="0.9"/>
<circle cx="38.90" cy="34.90" r="1.45" fill="none" stroke="#3030ff" stroke-width="0.9"/>
<circle cx="41.20" cy="42.10" r="1.45" fill="none" stroke="#3030ff" stroke-width="0.9"/>
<circle cx="45.40" cy="48.50" r="1.45" fill="none" stroke="#3030ff" stroke-width="0.9"/>
<circle cx="48.60" cy="56.40" r="1.45" fill="none" stroke="#3030ff" stroke-width="0.9"/>
<circle cx="50.50" cy="63.20" r="1.45" fill="none" stroke="#3030ff" stroke-width="0.9"/>
<circle cx="55.00" cy="70.50" r="1.45" fill="none" stroke="#3030ff" stroke-width="0.9"/>
<circle cx="58.80" cy="77.80" r="1.45" fill="none" stroke="#3030ff" stroke-width="0.9"/>
<circle cx="62.20" cy="84.40" r="1.45" fill="none" stroke="#3030ff" stroke-width="0.9"/>
<circle cx="63.50" cy="86.90" r="1.45" fill="none" stroke="#3030ff" stroke-width="0.9"/>
<circle cx="77.30" cy="92.90" r="1.45" fill="none" stroke="#3030ff" stroke-width="0.9"/>
<circle cx="130.00" cy="119.00" r="1.45" fill="none" stroke="#3030ff" stroke-width="0.9"/>
<circle cx="143.20" cy="126.50" r="1.45" fill="none" stroke="#3030ff" stroke-width="0.9"/>
<circle cx="156.60" cy="132.30" r="1.45" fill="none" stroke="#3030ff" stroke-width="0.9"/>
<circle cx="170.50" cy="139.40" r="1.45" fill="none" stroke="#3030ff" stroke-width="0.9"/>
<circle cx="183.50" cy="146.00" r="1.45" fill="none" stroke="#3030ff" stroke-width="0.9"/>
<circle cx="28.70" cy="194.10" r="1.45" fill="none" stroke="#3030ff" stroke-width="0.9"/>
<circle cx="30.00" cy="194.30" r="1.45" fill="none" stroke="#3030ff" stroke-width="0.9"/>
<circle cx="34.40" cy="200.50" r="1.45" fill="none" stroke="#3030ff" stroke-width="0.9"/>
<circle cx="36.60" cy="208.60" r="1.45" fill="none" stroke="#3030ff" stroke-width="0.9"/>
<circle cx="39.70" cy="217.00" r="1.45" fill="none" stroke="#3030ff" stroke-width="0.9"/>
<circle cx="43.40" cy="225.80" r="1.45" fill="none" stroke="#3030ff" stroke-width="0.9"/>
<circle cx="46.20" cy="236.50" r="1.45" fill="none" stroke="#3030ff" stroke-width="0.9"/>
<circle cx="50.50" cy="249.20" r="1.45" fill="none" stroke="#3030ff" stroke-width="0.9"/>
<circle cx="57.00" cy="260.60" r="1.45" fill="none" stroke="#3030ff" stroke-width="0.9"/>
<circle cx="62.50" cy="267.60" r="1.45" fill="none" stroke="#3030ff" stroke-width="0.9"/>
<circle cx="67.10" cy="274.00" r="1.45" fill="none" stroke="#3030ff" stroke-width="0.9"/>
<circle cx="73.50" cy="279.50" r="1.45" fill="none" stroke="#3030ff" stroke-width="0.9"/>
<circle cx="76.70" cy="285.70" r="1.45" fill="none" stroke="#3030ff" stroke-width="0.9"/>
<circle cx="79.20" cy="291.70" r="1.45" fill="none" stroke="#3030ff" stroke-width="0.9"/>
<circle cx="88.20" cy="297.60" r="1.45" fill="none" stroke="#3030ff" stroke-width="0.9"/>
<circle cx="92.30" cy="305.40" r="1.45" fill="none" stroke="#3030ff" stroke-width="0.9"/>
<circle cx="29.50" cy="367.60" r="1.45" fill="none" stroke="#3030ff" stroke-width="0.9"/>
<circle cx="32.90" cy="375.60" r="1.45" fill="none" stroke="#3030ff" stroke-width="0.9"/>
<circle cx="34.30" cy="381.50" r="1.45" fill="none" stroke="#3030ff" stroke-width="0.9"/>
<circle cx="36.10" cy="389.10" r="1.45" fill="none" stroke="#3030ff" stroke-width="0.9"/>
<circle cx="40.70" cy="412.00" r="1.45" fill="none" stroke="#3030ff" stroke-width="0.9"/>
<circle cx="46.20" cy="429.00" r="1.45" fill="none" stroke="#3030ff" stroke-width="0.9"/>
<circle cx="49.30" cy="441.30" r="1.45" fill="none" stroke="#3030ff" stroke-width="0.9"/>
<circle cx="55.00" cy="456.30" r="1.45" fill="none" stroke="#3030ff" stroke-width="0.9"/>
<circle cx="59.50" cy="465.60" r="1.45" fill="none" stroke="#3030ff" stroke-width="0.9"/>
<circle cx="64.00" cy="480.70" r="1.45" fill="none" stroke="#3030ff" stroke-width="0.9"/>
<rect x="28.50" y="5.40" width="167.50" height="166.90" fill="none" stroke="#606060" stroke-width="1.15"/>
<rect x="200.20" y="5.40" width="167.10" height="166.90" fill="none" stroke="#606060" stroke-width="1.15"/>
<rect x="28.50" y="179.00" width="167.50" height="167.00" fill="none" stroke="#606060" stroke-width="1.15"/>
<rect x="200.20" y="179.00" width="167.10" height="167.00" fill="none" stroke="#606060" stroke-width="1.15"/>
<rect x="28.50" y="352.60" width="167.50" height="166.90" fill="none" stroke="#606060" stroke-width="1.15"/>
<rect x="200.20" y="352.60" width="167.10" height="166.90" fill="none" stroke="#606060" stroke-width="1.15"/>
<text x="44.80" y="19.30" class="ti">(a) <tspan font-style="italic">T</tspan><tspan font-style="italic" font-size="5.4" dy="1.6">g</tspan><tspan dy="-1.6"> </tspan><tspan font-size="6.0" font-family="DejaVu Serif" stroke-width="0.35" dy="-1.1">=</tspan><tspan dy="1.1"> 523 K, d</tspan><tspan font-size="5.4" dy="1.6">0</tspan><tspan dy="-1.6"> </tspan><tspan font-size="6.0" font-family="DejaVu Serif" stroke-width="0.35" dy="-1.1">=</tspan><tspan dy="1.1">0.857mm</tspan></text>
<text x="216.50" y="19.30" class="ti">(b) <tspan font-style="italic">T</tspan><tspan font-style="italic" font-size="5.4" dy="1.6">g</tspan><tspan dy="-1.6"> </tspan><tspan font-size="6.0" font-family="DejaVu Serif" stroke-width="0.35" dy="-1.1">=</tspan><tspan dy="1.1"> 523 K, d</tspan><tspan font-size="5.4" dy="1.6">0</tspan><tspan dy="-1.6"> </tspan><tspan font-size="6.0" font-family="DejaVu Serif" stroke-width="0.35" dy="-1.1">=</tspan><tspan dy="1.1">0.857mm</tspan></text>
<text x="44.80" y="192.90" class="ti">(c) <tspan font-style="italic">T</tspan><tspan font-style="italic" font-size="5.4" dy="1.6">g</tspan><tspan dy="-1.6"> </tspan><tspan font-size="6.0" font-family="DejaVu Serif" stroke-width="0.35" dy="-1.1">=</tspan><tspan dy="1.1"> 573 K, d</tspan><tspan font-size="5.4" dy="1.6">0</tspan><tspan dy="-1.6"> </tspan><tspan font-size="6.0" font-family="DejaVu Serif" stroke-width="0.35" dy="-1.1">=</tspan><tspan dy="1.1">0.96mm</tspan></text>
<text x="216.50" y="192.90" class="ti">(d) <tspan font-style="italic">T</tspan><tspan font-style="italic" font-size="5.4" dy="1.6">g</tspan><tspan dy="-1.6"> </tspan><tspan font-size="6.0" font-family="DejaVu Serif" stroke-width="0.35" dy="-1.1">=</tspan><tspan dy="1.1"> 573 K, d</tspan><tspan font-size="5.4" dy="1.6">0</tspan><tspan dy="-1.6"> </tspan><tspan font-size="6.0" font-family="DejaVu Serif" stroke-width="0.35" dy="-1.1">=</tspan><tspan dy="1.1">0.96mm</tspan></text>
<text x="44.80" y="366.50" class="ti">(e) <tspan font-style="italic">T</tspan><tspan font-style="italic" font-size="5.4" dy="1.6">g</tspan><tspan dy="-1.6"> </tspan><tspan font-size="6.0" font-family="DejaVu Serif" stroke-width="0.35" dy="-1.1">=</tspan><tspan dy="1.1"> 623 K, d</tspan><tspan font-size="5.4" dy="1.6">0</tspan><tspan dy="-1.6"> </tspan><tspan font-size="6.0" font-family="DejaVu Serif" stroke-width="0.35" dy="-1.1">=</tspan><tspan dy="1.1">0.869mm</tspan></text>
<text x="216.50" y="366.50" class="ti">(f) <tspan font-style="italic">T</tspan><tspan font-style="italic" font-size="5.4" dy="1.6">g</tspan><tspan dy="-1.6"> </tspan><tspan font-size="6.0" font-family="DejaVu Serif" stroke-width="0.35" dy="-1.1">=</tspan><tspan dy="1.1"> 623 K, d</tspan><tspan font-size="5.4" dy="1.6">0</tspan><tspan dy="-1.6"> </tspan><tspan font-size="6.0" font-family="DejaVu Serif" stroke-width="0.35" dy="-1.1">=</tspan><tspan dy="1.1">0.869mm</tspan></text>
<text x="168.30" y="12.30" text-anchor="end" class="lg">M3</text>
<line x1="172.00" y1="10.30" x2="187.60" y2="10.30" stroke="#000000" stroke-width="1.5"/>
<text x="168.30" y="17.85" text-anchor="end" class="lg">M2</text>
<line x1="172.00" y1="15.85" x2="187.60" y2="15.85" stroke="#0000ff" stroke-width="1.5"/>
<text x="168.30" y="23.40" text-anchor="end" class="lg">M1</text>
<line x1="172.00" y1="21.40" x2="187.60" y2="21.40" stroke="#ff0000" stroke-width="1.5"/>
<text x="168.30" y="28.95" text-anchor="end" class="lg">M0</text>
<line x1="172.00" y1="26.95" x2="187.60" y2="26.95" stroke="#00ee00" stroke-width="1.5"/>
<text x="168.30" y="34.50" text-anchor="end" class="lg">Exp. Wang et al.</text>
<circle cx="179.30" cy="32.80" r="1.45" fill="none" stroke="#3030ff" stroke-width="0.9"/>
<text x="339.60" y="12.30" text-anchor="end" class="lg">M3</text>
<line x1="343.30" y1="10.30" x2="358.90" y2="10.30" stroke="#000000" stroke-width="1.5"/>
<text x="339.60" y="17.85" text-anchor="end" class="lg">M2</text>
<line x1="343.30" y1="15.85" x2="358.90" y2="15.85" stroke="#0000ff" stroke-width="1.5"/>
<text x="339.60" y="23.40" text-anchor="end" class="lg">M1</text>
<line x1="343.30" y1="21.40" x2="358.90" y2="21.40" stroke="#ff0000" stroke-width="1.5"/>
<text x="339.60" y="28.95" text-anchor="end" class="lg">M0</text>
<line x1="343.30" y1="26.95" x2="358.90" y2="26.95" stroke="#00ee00" stroke-width="1.5"/>
<text transform="translate(10.8,88.85) rotate(-90)" text-anchor="middle" class="at">d<tspan font-size="5.6" dy="-3.6">2</tspan><tspan dy="3.6">/d</tspan><tspan font-size="5.2" dy="2.0">0</tspan><tspan font-size="5.6" dy="-5.6"> 2</tspan><tspan dy="3.6"> [-]</tspan></text>
<text transform="translate(394.1,88.85) rotate(-90)" text-anchor="middle" class="at2">Droplet surface temperature [K]</text>
<text transform="translate(10.8,262.50) rotate(-90)" text-anchor="middle" class="at">d<tspan font-size="5.6" dy="-3.6">2</tspan><tspan dy="3.6">/d</tspan><tspan font-size="5.2" dy="2.0">0</tspan><tspan font-size="5.6" dy="-5.6"> 2</tspan><tspan dy="3.6"> [-]</tspan></text>
<text transform="translate(394.1,262.50) rotate(-90)" text-anchor="middle" class="at2">Droplet surface temperature [K]</text>
<text transform="translate(10.8,436.05) rotate(-90)" text-anchor="middle" class="at">d<tspan font-size="5.6" dy="-3.6">2</tspan><tspan dy="3.6">/d</tspan><tspan font-size="5.2" dy="2.0">0</tspan><tspan font-size="5.6" dy="-5.6"> 2</tspan><tspan dy="3.6"> [-]</tspan></text>
<text transform="translate(394.1,436.05) rotate(-90)" text-anchor="middle" class="at2">Droplet surface temperature [K]</text>
<text x="28.50" y="530.8" text-anchor="middle" class="tk">0</text>
<text x="52.43" y="530.8" text-anchor="middle" class="tk">20</text>
<text x="76.36" y="530.8" text-anchor="middle" class="tk">40</text>
<text x="100.29" y="530.8" text-anchor="middle" class="tk">60</text>
<text x="124.21" y="530.8" text-anchor="middle" class="tk">80</text>
<text x="148.14" y="530.8" text-anchor="middle" class="tk">100</text>
<text x="172.07" y="530.8" text-anchor="middle" class="tk">120</text>
<text x="112.25" y="544.9" text-anchor="middle" class="at">t/d<tspan font-size="5.2" dy="2.0">0</tspan><tspan font-size="5.6" dy="-5.6"> 2</tspan><tspan dy="3.6"> [s mm</tspan><tspan font-size="5.6" dy="-3.6">-2</tspan><tspan dy="3.6">]</tspan></text>
<text x="200.20" y="530.8" text-anchor="middle" class="tk">0</text>
<text x="224.07" y="530.8" text-anchor="middle" class="tk">20</text>
<text x="247.94" y="530.8" text-anchor="middle" class="tk">40</text>
<text x="271.81" y="530.8" text-anchor="middle" class="tk">60</text>
<text x="295.69" y="530.8" text-anchor="middle" class="tk">80</text>
<text x="319.56" y="530.8" text-anchor="middle" class="tk">100</text>
<text x="343.43" y="530.8" text-anchor="middle" class="tk">120</text>
<text x="283.75" y="544.9" text-anchor="middle" class="at">t/d<tspan font-size="5.2" dy="2.0">0</tspan><tspan font-size="5.6" dy="-5.6"> 2</tspan><tspan dy="3.6"> [s mm</tspan><tspan font-size="5.6" dy="-3.6">-2</tspan><tspan dy="3.6">]</tspan></text>
</svg>
</body></html>
